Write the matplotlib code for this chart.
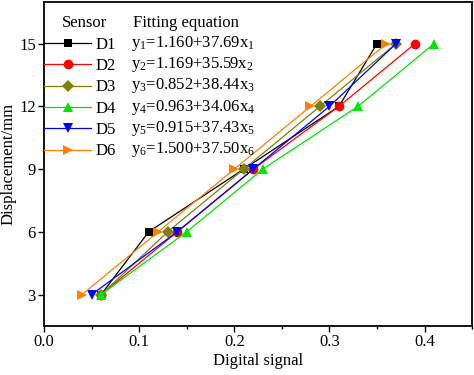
import matplotlib.pyplot as plt
from matplotlib.ticker import MultipleLocator

plt.rcParams["font.family"] = "Liberation Serif"
plt.rcParams["mathtext.fontset"] = "custom"
plt.rcParams["mathtext.rm"] = "Liberation Serif"
plt.rcParams["mathtext.it"] = "Liberation Serif"

displacement = [3, 6, 9, 12, 15]
d1 = [0.06, 0.11, 0.21, 0.31, 0.35]
d2 = [0.06, 0.14, 0.22, 0.31, 0.39]
d3 = [0.06, 0.13, 0.21, 0.29, 0.37]
d4 = [0.06, 0.15, 0.23, 0.33, 0.41]
d5 = [0.05, 0.14, 0.22, 0.30, 0.37]
d6 = [0.04, 0.12, 0.20, 0.28, 0.36]
names = ["D1", "D2", "D3", "D4", "D5", "D6"]
equations = [
    "y$_1$=1.160+37.69x$_1$",
    "y$_2$=1.169+35.59x$_2$",
    "y$_3$=0.852+38.44x$_3$",
    "y$_4$=0.963+34.06x$_4$",
    "y$_5$=0.915+37.43x$_5$",
    "y$_6$=1.500+37.50x$_6$",
]

series = [d1, d2, d3, d4, d5, d6]
colors = ["black", "red", "#808000", "#00e600", "blue", "#ff8000"]
markers = ["s", "o", "D", "^", "v", ">"]
sizes = [6, 7, 6, 7, 7, 7]

fig = plt.figure(figsize=(4.74, 3.75), dpi=100)
ax = fig.add_axes([0.093, 0.131, 0.903, 0.864])

for x, name, c, m, s in zip(series, names, colors, markers, sizes):
    ax.plot(x, displacement, color=c, marker=m, markersize=s, linewidth=0.9,
            markeredgewidth=0, label=name)

ax.set_xlim(0, 0.45)
ax.set_ylim(1.5, 17)
ax.xaxis.set_major_locator(MultipleLocator(0.1))
ax.xaxis.set_minor_locator(MultipleLocator(0.05))
ax.yaxis.set_major_locator(MultipleLocator(3))
ax.tick_params(which="major", direction="out", length=4, width=1, pad=2,
               labelsize=12)
ax.tick_params(which="minor", direction="out", length=2.5, width=1)
for sp in ax.spines.values():
    sp.set_linewidth(1.3)

ax.set_xlabel("Digital signal", fontsize=12, labelpad=2)
ax.set_ylabel("Displacement/mm", fontsize=12, labelpad=2)

leg = ax.legend(loc="upper left", bbox_to_anchor=(-0.015, 0.913), frameon=False,
                fontsize=12, handlelength=2.8, handletextpad=0.25,
                labelspacing=0.32, borderaxespad=0.0)

ax.text(0.042, 0.935, "Sensor", transform=ax.transAxes, fontsize=12, va="center")
ax.text(0.208, 0.935, "Fitting equation", transform=ax.transAxes, fontsize=12,
        va="center")
for i, eq in enumerate(equations):
    ax.text(0.203, 0.873 - i * 0.066, eq, transform=ax.transAxes, fontsize=12,
            va="center")

fig.savefig("out.png", dpi=100)
